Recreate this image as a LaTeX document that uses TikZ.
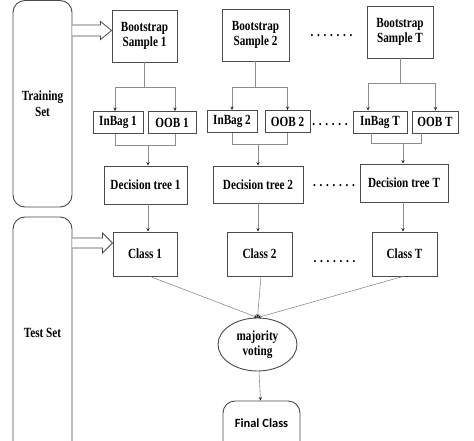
\documentclass[tikz,border=0pt]{standalone}
\usepackage{fontspec}
\setmainfont{Liberation Serif}[FakeStretch=0.8]
\newfontfamily\carl{Carlito}
\usetikzlibrary{shapes.geometric,calc,arrows.meta}
\definecolor{bd}{HTML}{4A4A4A}
\definecolor{ln}{HTML}{8C8C8C}
\begin{document}
\begin{tikzpicture}[x=1pt,y=-1pt,
  txt/.style={font=\fontsize{14}{15.5}\selectfont\bfseries,align=center},
  box/.style={txt,draw=bd,line width=0.9pt,fill=white,inner sep=0pt},
  conn/.style={draw=ln,line width=0.6pt},
  arr/.style={conn,-{Stealth[length=3.5pt,width=3.2pt,color=black!85]}},
  dotrow/.style={font=\fontsize{14}{15}\selectfont\bfseries,anchor=base,inner sep=0pt},
  rbox/.style={draw=bd,line width=0.9pt,rounded corners=12pt,inner sep=0pt},
  hollow/.style={draw=bd,line width=0.8pt,fill=white,line join=miter}]
\useasboundingbox (0,0) rectangle (474,441);
\clip (0,0) rectangle (474,441);

% side boxes
\node[rbox,txt,minimum width=59pt,minimum height=206.5pt] (train) at (42.5,103.75) {Training\\Set};
\node[rbox,minimum width=59pt,minimum height=243pt] (test) at (42.5,338.5) {};
\node[txt] (testlbl) at (42.5,333) {Test Set};

% bootstrap samples
\node[box,minimum width=65pt,minimum height=52pt] (bs1) at (144.5,36) {Bootstrap\\Sample 1};
\node[box,minimum width=67pt,minimum height=52pt] (bs2) at (255.5,35) {Bootstrap\\Sample 2};
\node[box,minimum width=66pt,minimum height=52pt] (bsT) at (400,32) {Bootstrap\\Sample T};

% inbag / oob
\node[box,minimum width=50pt,minimum height=22pt] (ib1) at (118,122.5) {InBag 1};
\node[box,minimum width=48pt,minimum height=22pt] (oob1) at (172,122.5) {OOB 1};
\node[box,minimum width=50pt,minimum height=22pt] (ib2) at (232,121.5) {InBag 2};
\node[box,minimum width=45pt,minimum height=22pt] (oob2) at (287.5,121.5) {OOB 2};
\node[box,minimum width=54pt,minimum height=22pt] (ibT) at (380,122) {InBag T};
\node[box,minimum width=46pt,minimum height=22pt] (oobT) at (435,122) {OOB T};

% decision trees
\node[box,minimum width=83pt,minimum height=38pt] (dt1) at (145.5,185) {Decision tree 1};
\node[box,minimum width=90pt,minimum height=37pt] (dt2) at (258,184.5) {Decision tree 2};
\node[box,minimum width=88pt,minimum height=38pt] (dtT) at (404,183) {Decision tree T};

% classes
\node[box,minimum width=64pt,minimum height=44pt] (c1) at (145,254) {Class 1};
\node[box,minimum width=65pt,minimum height=44pt] (c2) at (259.5,254) {Class 2};
\node[box,minimum width=65pt,minimum height=44pt] (cT) at (404.5,254) {Class T};

% voting and final
\node[box,ellipse,minimum width=79pt,minimum height=53pt] (mv) at (257.5,344.5) {majority\\voting};
\node[rbox,minimum width=77pt,minimum height=59pt] (final) at (261.5,430.5) {};
\node[font=\carl\bfseries\fontsize{12.5}{14}\selectfont,inner sep=0pt] (finallbl) at (261.5,423) {Final Class};

% dots
\node[dotrow] (d1) at (331.5,37) {. . . . . . .};
\node[dotrow] (d2) at (330,126) {. . . . . .};
\node[dotrow] (d3) at (334,186) {. . . . . . .};
\node[dotrow] (d4) at (334.5,262) {. . . . . . .};

% hollow arrows
\coordinate (a1s) at (train.east |- 0,30.5);
\coordinate (a1e) at (bs1.west |- 0,30.5);
\draw[hollow] ($(a1s)+(0,-5.5)$) -- ($(a1e)+(-11,-5.5)$) -- ($(a1e)+(-11,-9)$) -- (a1e)
  -- ($(a1e)+(-11,9)$) -- ($(a1e)+(-11,5.5)$) -- ($(a1s)+(0,5.5)$);
\coordinate (a2s) at (test.east |- 0,243);
\coordinate (a2e) at (c1.west |- 0,243);
\draw[hollow] ($(a2s)+(0,-5)$) -- ($(a2e)+(-10,-5)$) -- ($(a2e)+(-10,-10)$) -- (a2e)
  -- ($(a2e)+(-10,10)$) -- ($(a2e)+(-10,5)$) -- ($(a2s)+(0,5)$);

% group 1
\draw[conn] (bs1.south) -- ++(0,25) coordinate (j1);
\draw[arr] (j1) -| ($(ib1.north)+(-3,0)$);
\draw[arr] (j1) -| ($(oob1.north)+(3,0)$);
\coordinate (m1) at ($(dt1.north)+(2.5,-20)$);
\draw[conn] ($(ib1.south)+(-3,0)$) |- (m1) -| ($(oob1.south)+(3,0)$);
\draw[arr] (m1) -- (m1 |- dt1.north);

% group 2
\draw[conn] (bs2.south) -- ++(0,26) coordinate (j2);
\draw[arr] (j2) -| (ib2.north);
\draw[arr] (j2) -| (oob2.north);
\coordinate (m2) at ($(dt2.north)+(0,-21)$);
\draw[conn] (ib2.south) |- (m2) -| (oob2.south);
\draw[arr] (m2) -- (m2 |- dt2.north);

% group T
\draw[conn] (bsT.south) -- ++(0,25) coordinate (jT);
\draw[arr] (jT) -| ($(ibT.north)+(-12,0)$);
\draw[arr] (jT) -| ($(oobT.north)+(0.5,0)$);
\coordinate (mT) at ($(dtT.north)+(-1,-20)$);
\draw[conn] ($(ibT.south)+(-9,0)$) |- (mT) -| ($(oobT.south)+(-14,0)$);
\draw[arr] (mT) -- (mT |- dtT.north);

% trees to classes
\draw[arr] (dt1.south -| c1.north) ++(3,0) -- ($(c1.north)+(3,0)$);
\draw[arr] (dt2.south) -- (dt2.south |- c2.north);
\draw[arr] ($(dtT.south)+(-1,0)$) -- ($(cT.north)+(-1.5,0)$);

% classes to voting
\draw[arr] ($(c1.south)+(5,0)$) -- (mv.north);
\draw[arr] ($(c2.south)+(1.5,0)$) -- (mv.north);
\draw[arr] ($(cT.south)+(-1.5,0)$) -- (mv.north);

% voting to final
\draw[arr] ($(mv.south)+(1.5,0)$) -- ($(final.north)+(-1,0)$);
\end{tikzpicture}
\end{document}
